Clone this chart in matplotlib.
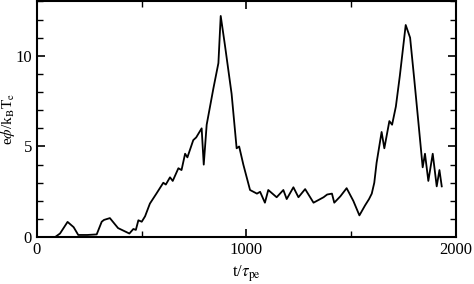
import matplotlib
matplotlib.use("Agg")
import matplotlib.pyplot as plt
from matplotlib.ticker import MultipleLocator

plt.rcParams["font.family"] = ["Liberation Serif", "DejaVu Serif"]
plt.rcParams["mathtext.fontset"] = "stix"

t = [86, 110, 146, 175, 197, 240, 285, 309, 320, 348, 387, 441, 460, 472, 484,
     500, 516, 539, 570, 603, 615, 635, 648, 675, 690, 707, 718, 746, 760, 786,
     796, 810, 842, 866, 877, 897, 929, 953, 965, 985, 1017, 1050, 1065, 1088,
     1104, 1144, 1176, 1192, 1224, 1248, 1280, 1320, 1368, 1385, 1408, 1419,
     1448, 1478, 1510, 1539, 1566, 1585, 1598, 1610, 1621, 1645, 1658, 1682,
     1695, 1713, 1732, 1760, 1781, 1800, 1820, 1841, 1852, 1868, 1889, 1908,
     1921, 1932]
phi = [0.0, 0.2, 0.84, 0.55, 0.12, 0.12, 0.15, 0.85, 0.95, 1.05, 0.5, 0.2,
       0.45, 0.4, 0.93, 0.85, 1.15, 1.85, 2.4, 3.0, 2.9, 3.3, 3.1, 3.8, 3.7,
       4.6, 4.4, 5.35, 5.5, 6.0, 4.0, 6.2, 8.2, 9.6, 12.2, 10.6, 7.9, 4.9, 5.0,
       4.0, 2.6, 2.4, 2.5, 1.9, 2.6, 2.2, 2.6, 2.1, 2.75, 2.2, 2.65, 1.9, 2.2,
       2.35, 2.4, 1.9, 2.25, 2.7, 2.0, 1.2, 1.75, 2.1, 2.4, 3.0, 4.1, 5.8, 4.9,
       6.4, 6.2, 7.2, 8.9, 11.7, 11.0, 8.8, 6.4, 3.85, 4.6, 3.1, 4.6, 2.8, 3.7,
       2.8]

fig = plt.figure(figsize=(4.74, 2.84), dpi=100)
ax = fig.add_axes([0.078, 0.165, 0.884, 0.83])
ax.plot(t, phi, color="black", lw=1.3)

ax.set_xlim(0, 2000)
ax.set_ylim(0, 13)
ax.xaxis.set_major_locator(MultipleLocator(1000))
ax.xaxis.set_minor_locator(MultipleLocator(500))
ax.yaxis.set_major_locator(MultipleLocator(5))
ax.yaxis.set_minor_locator(MultipleLocator(1))
ax.tick_params(which="both", direction="in", top=True, right=True, labelsize=12)
ax.tick_params(which="major", length=6, width=1.2)
ax.tick_params(which="minor", length=4, width=1.0)
for s in ax.spines.values():
    s.set_linewidth(1.5)

ax.set_xlabel(r"t/$\tau_{\mathrm{pe}}$", fontsize=12)
ax.set_ylabel(r"e$\phi$/k$_{\mathrm{B}}$T$_{\mathrm{e}}$", fontsize=11)
ax.yaxis.set_label_coords(-0.048, 0.5)

fig.savefig("out.png", dpi=100)
